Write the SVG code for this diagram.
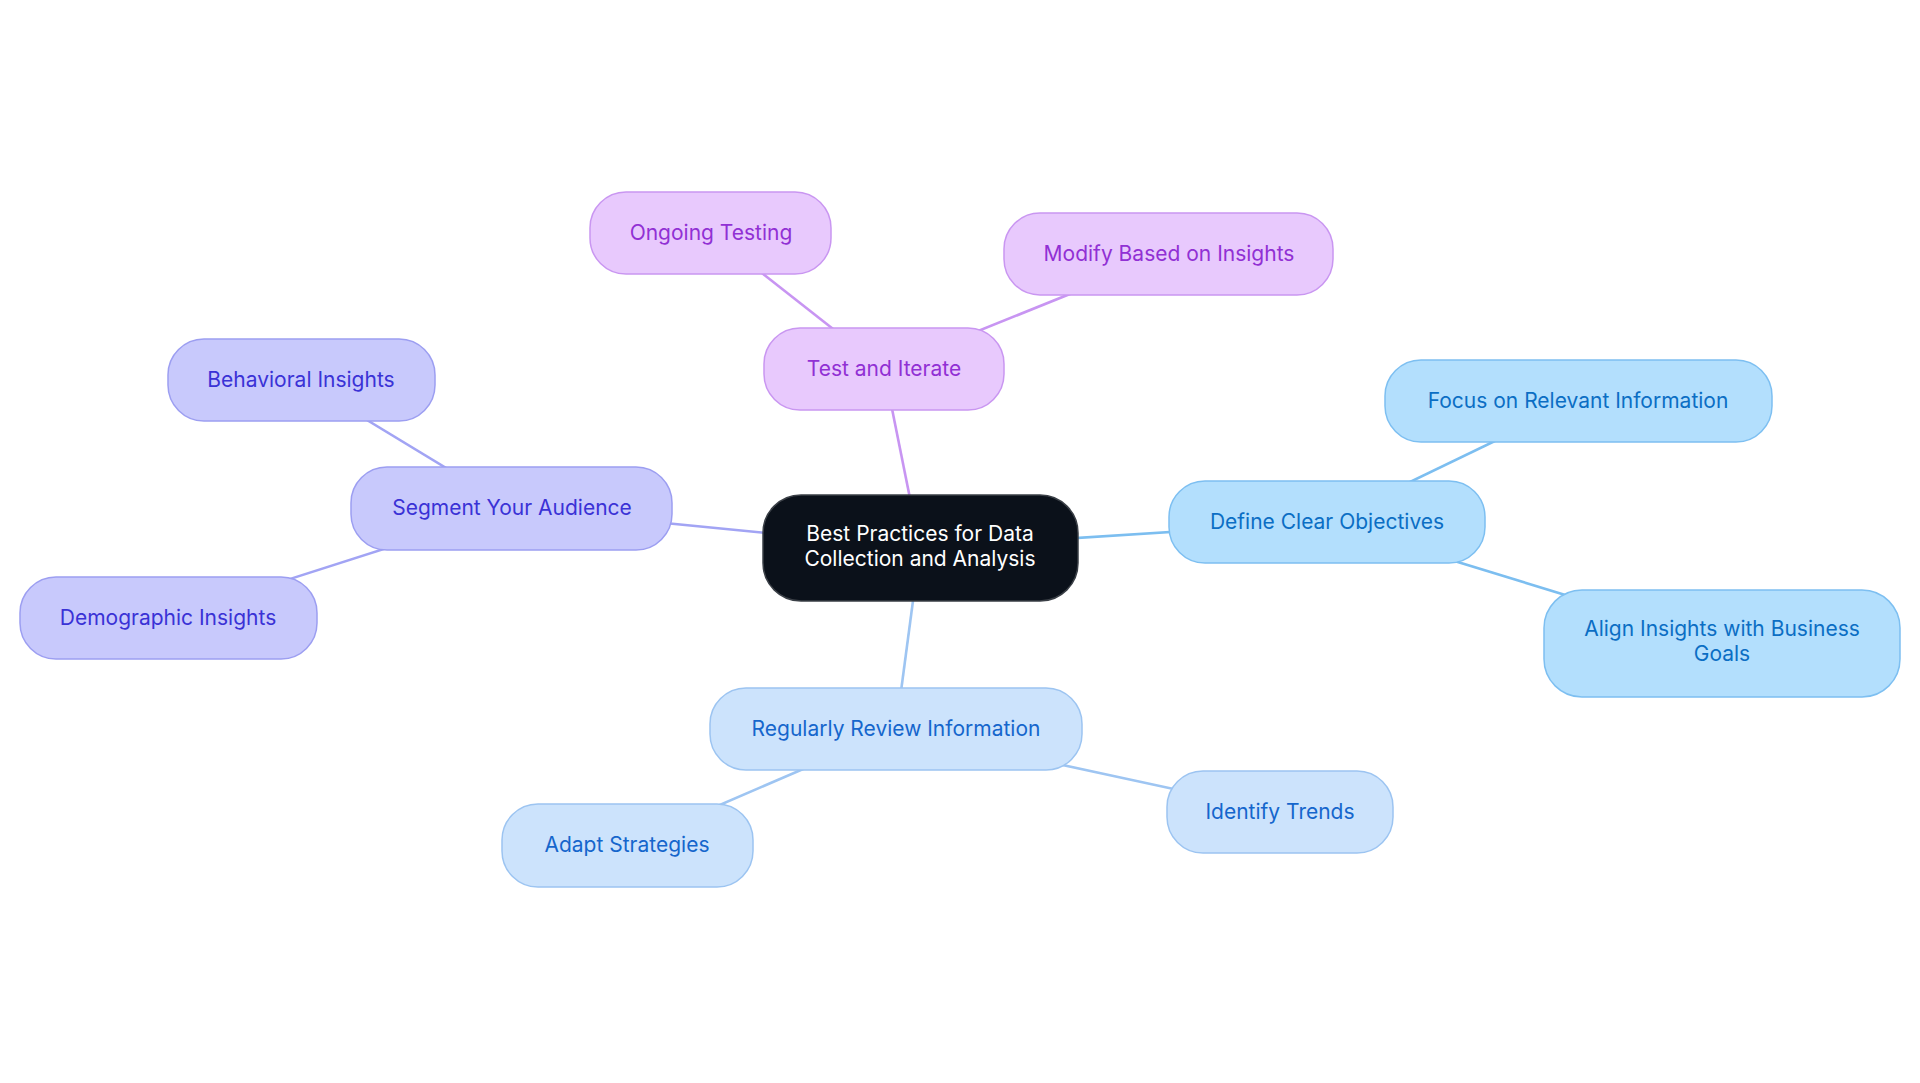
<svg xmlns="http://www.w3.org/2000/svg" width="1920" height="1083" viewBox="0 0 1920 1083">
<style>
text{font-family:Inter,"Noto Sans","Liberation Sans",sans-serif;font-size:21px;text-anchor:middle}
.e{stroke-width:2.6;fill:none}
.pu rect{fill:#E8C9FD;stroke:#C996F1;stroke-width:1.5}
.pu text{fill:#9130D4}
.in rect{fill:#C8C9FC;stroke:#9C9EF1;stroke-width:1.5}
.in text{fill:#3A32D6}
.lb rect{fill:#B3DFFD;stroke:#7DBFF1;stroke-width:1.5}
.lb text{fill:#0B6EC4}
.pb rect{fill:#CCE3FC;stroke:#9CC4F1;stroke-width:1.5}
.pb text{fill:#1566CC}
</style>
<rect width="1920" height="1083" fill="#FFFFFF"/>
<g id="connectors">
<line class="e" stroke="#C895F2" x1="920" y1="548" x2="884" y2="369"/>
<line class="e" stroke="#C895F2" x1="884" y1="369" x2="711" y2="233"/>
<line class="e" stroke="#C895F2" x1="884" y1="369" x2="1169" y2="254"/>
<line class="e" stroke="#A2A4F4" x1="920" y1="548" x2="512" y2="508"/>
<line class="e" stroke="#A2A4F4" x1="512" y1="508" x2="301" y2="380"/>
<line class="e" stroke="#A2A4F4" x1="512" y1="508" x2="168" y2="618"/>
<line class="e" stroke="#7CBEF0" x1="920" y1="548" x2="1327" y2="522"/>
<line class="e" stroke="#7CBEF0" x1="1327" y1="522" x2="1578" y2="401"/>
<line class="e" stroke="#7CBEF0" x1="1327" y1="522" x2="1722" y2="643"/>
<line class="e" stroke="#9EC5F2" x1="920" y1="548" x2="896" y2="729"/>
<line class="e" stroke="#9EC5F2" x1="896" y1="729" x2="1280" y2="812"/>
<line class="e" stroke="#9EC5F2" x1="896" y1="729" x2="627" y2="845"/>
</g>
<g id="center">
<rect x="763" y="495" width="315" height="106" rx="38" fill="#0B111A" stroke="#3A3F46" stroke-width="1.5"/>
<text x="920" y="541" fill="#FFFFFF">Best Practices for Data</text>
<text x="920" y="566" fill="#FFFFFF">Collection and Analysis</text>
</g>
<g id="test" class="pu">
<rect x="764" y="328" width="240" height="82" rx="36"/>
<text x="884" y="376">Test and Iterate</text>
</g>
<g id="ongoing" class="pu">
<rect x="590" y="192" width="241" height="82" rx="36"/>
<text x="711" y="240">Ongoing Testing</text>
</g>
<g id="modify" class="pu">
<rect x="1004" y="213" width="329" height="82" rx="36"/>
<text x="1169" y="261">Modify Based on Insights</text>
</g>
<g id="segment" class="in">
<rect x="351" y="467" width="321" height="83" rx="36"/>
<text x="512" y="515">Segment Your Audience</text>
</g>
<g id="behavioral" class="in">
<rect x="168" y="339" width="267" height="82" rx="36"/>
<text x="301" y="387">Behavioral Insights</text>
</g>
<g id="demographic" class="in">
<rect x="20" y="577" width="297" height="82" rx="36"/>
<text x="168" y="625">Demographic Insights</text>
</g>
<g id="define" class="lb">
<rect x="1169" y="481" width="316" height="82" rx="36"/>
<text x="1327" y="529">Define Clear Objectives</text>
</g>
<g id="focus" class="lb">
<rect x="1385" y="360" width="387" height="82" rx="36"/>
<text x="1578" y="408">Focus on Relevant Information</text>
</g>
<g id="align" class="lb">
<rect x="1544" y="590" width="356" height="107" rx="38"/>
<text x="1722" y="636">Align Insights with Business</text>
<text x="1722" y="661">Goals</text>
</g>
<g id="regularly" class="pb">
<rect x="710" y="688" width="372" height="82" rx="36"/>
<text x="896" y="736">Regularly Review Information</text>
</g>
<g id="identify" class="pb">
<rect x="1167" y="771" width="226" height="82" rx="36"/>
<text x="1280" y="819">Identify Trends</text>
</g>
<g id="adapt" class="pb">
<rect x="502" y="804" width="251" height="83" rx="36"/>
<text x="627" y="852">Adapt Strategies</text>
</g>
</svg>
